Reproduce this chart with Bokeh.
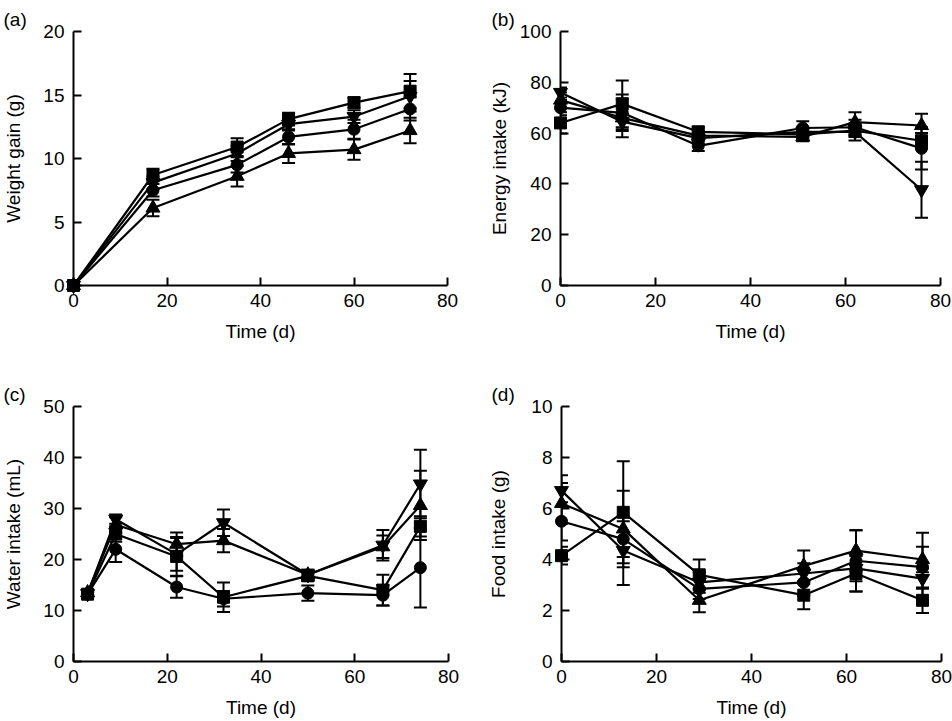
from bokeh.plotting import figure
from bokeh.models import Range1d, ColumnDataSource, Whisker, TeeHead, FixedTicker
from bokeh.layouts import column, row
from bokeh.embed import file_html
from bokeh.resources import INLINE

FONT = "Liberation Sans"
FSIZE = "19px"
MARKERS = ["triangle", "circle", "inverted_triangle", "square"]
MSIZE = {"triangle": 14, "circle": 12, "inverted_triangle": 14, "square": 12}

# ---------------- data ----------------
x_ticks = [0, 20, 40, 60, 80]

# (a) weight gain (g)
a_days = [0, 17, 35, 46, 60, 72]
a_tri = [0, 6.1, 8.6, 10.4, 10.7, 12.2]
a_circle = [0, 7.5, 9.5, 11.7, 12.3, 13.9]
a_inv = [0, 8.1, 10.4, 12.7, 13.3, 14.9]
a_square = [0, 8.7, 10.9, 13.1, 14.4, 15.3]
a_tri_err = [0, 0.65, 0.8, 0.75, 0.8, 1.0]
a_circle_err = [0, 0.5, 0.6, 0.6, 0.75, 0.9]
a_inv_err = [0, 0.5, 0.6, 0.5, 0.5, 1.2]
a_square_err = [0, 0.5, 0.7, 0.5, 0.4, 1.35]
a_yticks = [0, 5, 10, 15, 20]

# (b) energy intake (kJ)
b_days = [0, 13, 29, 51, 62, 76]
b_tri = [73, 66, 59, 58.5, 64.3, 63]
b_circle = [70, 68, 55, 62, 62.3, 54]
b_inv = [76, 64.5, 58, 60.5, 60.5, 37.7]
b_square = [64, 71.5, 60.5, 59.5, 61, 57]
b_tri_err = [3, 7.6, 2, 1.7, 3.9, 4.6]
b_circle_err = [3, 7.2, 2, 2.7, 3, 8.3]
b_inv_err = [2, 3, 2, 2, 3.4, 11]
b_square_err = [4.2, 9.2, 2, 2.5, 2.5, 3]
b_yticks = [0, 20, 40, 60, 80, 100]

# (c) water intake (mL)
c_days = [3, 9, 22, 32, 50, 66, 74]
c_tri = [13.5, 26.8, 23.0, 23.7, 17.0, 22.5, 30.6]
c_circle = [13.2, 22.0, 14.6, 12.3, 13.4, 13.0, 18.4]
c_inv = [13.3, 27.9, 21.0, 27.2, 17.0, 22.8, 34.8]
c_square = [13.2, 25.0, 20.6, 12.6, 16.8, 14.0, 26.5]
c_tri_err = [0.5, 1.5, 2.3, 2.3, 1.0, 2.2, 6.8]
c_circle_err = [0.5, 2.5, 2.1, 1.5, 1.5, 2.0, 7.8]
c_inv_err = [0.5, 0.9, 3.2, 2.6, 1.0, 3.0, 6.7]
c_square_err = [0.5, 1.5, 3.8, 2.9, 1.0, 3.0, 2.0]
c_yticks = [0, 10, 20, 30, 40, 50]

# (d) food intake (g)
d_days = [0, 13, 29, 51, 62, 76]
d_tri = [6.2, 5.2, 2.4, 3.75, 4.35, 4.0]
d_circle = [5.5, 4.8, 2.85, 3.1, 3.95, 3.7]
d_inv = [6.7, 4.35, 3.1, 3.45, 3.65, 3.25]
d_square = [4.15, 5.85, 3.4, 2.6, 3.45, 2.4]
d_tri_err = [0.8, 1.5, 0.47, 0.6, 0.8, 0.5]
d_circle_err = [0.75, 0.7, 0.4, 0.5, 1.2, 1.35]
d_inv_err = [0.6, 1.35, 0.4, 0.4, 0.5, 0.4]
d_square_err = [0.35, 2.0, 0.6, 0.55, 0.7, 0.5]
d_yticks = [0, 2, 4, 6, 8, 10]


def make_panel(tag, days, series, errs, yticks, ylabel, borders, ylab_standoff, height, title_offset):
    left, right, top, bottom = borders
    p = figure(width=476, height=height, output_backend="svg", toolbar_location=None,
               x_range=Range1d(0, 80), y_range=Range1d(yticks[0], yticks[-1]),
               min_border_left=left, min_border_right=right,
               min_border_top=top, min_border_bottom=bottom)
    p.outline_line_color = None
    p.grid.visible = False
    p.background_fill_color = "white"
    p.border_fill_color = "white"

    p.title.text = tag
    p.title.align = "left"
    p.title.offset = title_offset
    p.title.standoff = 3
    p.title.text_font = FONT
    p.title.text_font_size = FSIZE
    p.title.text_font_style = "normal"
    p.title.text_color = "black"

    p.xaxis.ticker = FixedTicker(ticks=x_ticks)
    p.yaxis.ticker = FixedTicker(ticks=yticks)
    p.xaxis.axis_label = "Time (d)"
    p.yaxis.axis_label = ylabel
    for ax in (p.xaxis, p.yaxis):
        ax.axis_line_width = 2
        ax.axis_line_color = "black"
        ax.major_tick_line_width = 2
        ax.major_tick_line_color = "black"
        ax.major_tick_in = 8
        ax.major_tick_out = 0
        ax.minor_tick_line_color = None
        ax.major_label_text_font = FONT
        ax.major_label_text_font_size = FSIZE
        ax.major_label_text_color = "black"
        ax.axis_label_text_font = FONT
        ax.axis_label_text_font_size = FSIZE
        ax.axis_label_text_font_style = "normal"
        ax.axis_label_text_color = "black"
    p.xaxis.major_label_standoff = 8
    p.yaxis.major_label_standoff = 9
    p.xaxis.axis_label_standoff = 11
    p.yaxis.axis_label_standoff = ylab_standoff

    for vals, err, marker in zip(series, errs, MARKERS):
        src = ColumnDataSource(dict(
            x=days, y=vals,
            upper=[v + e for v, e in zip(vals, err)],
            lower=[v - e for v, e in zip(vals, err)]))
        p.line("x", "y", source=src, line_color="black", line_width=2.2)
        w = Whisker(source=src, base="x", upper="upper", lower="lower", dimension="height",
                    line_color="black", line_width=2,
                    upper_head=TeeHead(size=13, line_width=2, line_color="black"),
                    lower_head=TeeHead(size=13, line_width=2, line_color="black"))
        p.add_layout(w)
        r = p.scatter("x", "y", source=src, marker=marker, size=MSIZE[marker],
                      fill_color="black", line_color="black")
        r.level = "overlay"
    return p


pa = make_panel("(a)", a_days, [a_tri, a_circle, a_inv, a_square],
                [a_tri_err, a_circle_err, a_inv_err, a_square_err], a_yticks,
                "Weight gain (g)", (67, 29, 30, 75), 16, 360, -70)
pb = make_panel("(b)", b_days, [b_tri, b_circle, b_inv, b_square],
                [b_tri_err, b_circle_err, b_inv_err, b_square_err], b_yticks,
                "Energy intake (kJ)", (84, 12, 31, 75), 7, 360, -69)
pc = make_panel("(c)", c_days, [c_tri, c_circle, c_inv, c_square],
                [c_tri_err, c_circle_err, c_inv_err, c_square_err], c_yticks,
                "Water intake (mL)", (67, 28, 46, 60), 16, 361, -70)
pd_ = make_panel("(d)", d_days, [d_tri, d_circle, d_inv, d_square],
                 [d_tri_err, d_circle_err, d_inv_err, d_square_err], d_yticks,
                 "Food intake (g)", (85, 11, 46, 60), 19, 361, -70)

layout = column(row(pa, pb), row(pc, pd_))
open("out.html", "w").write(file_html(layout, INLINE))
